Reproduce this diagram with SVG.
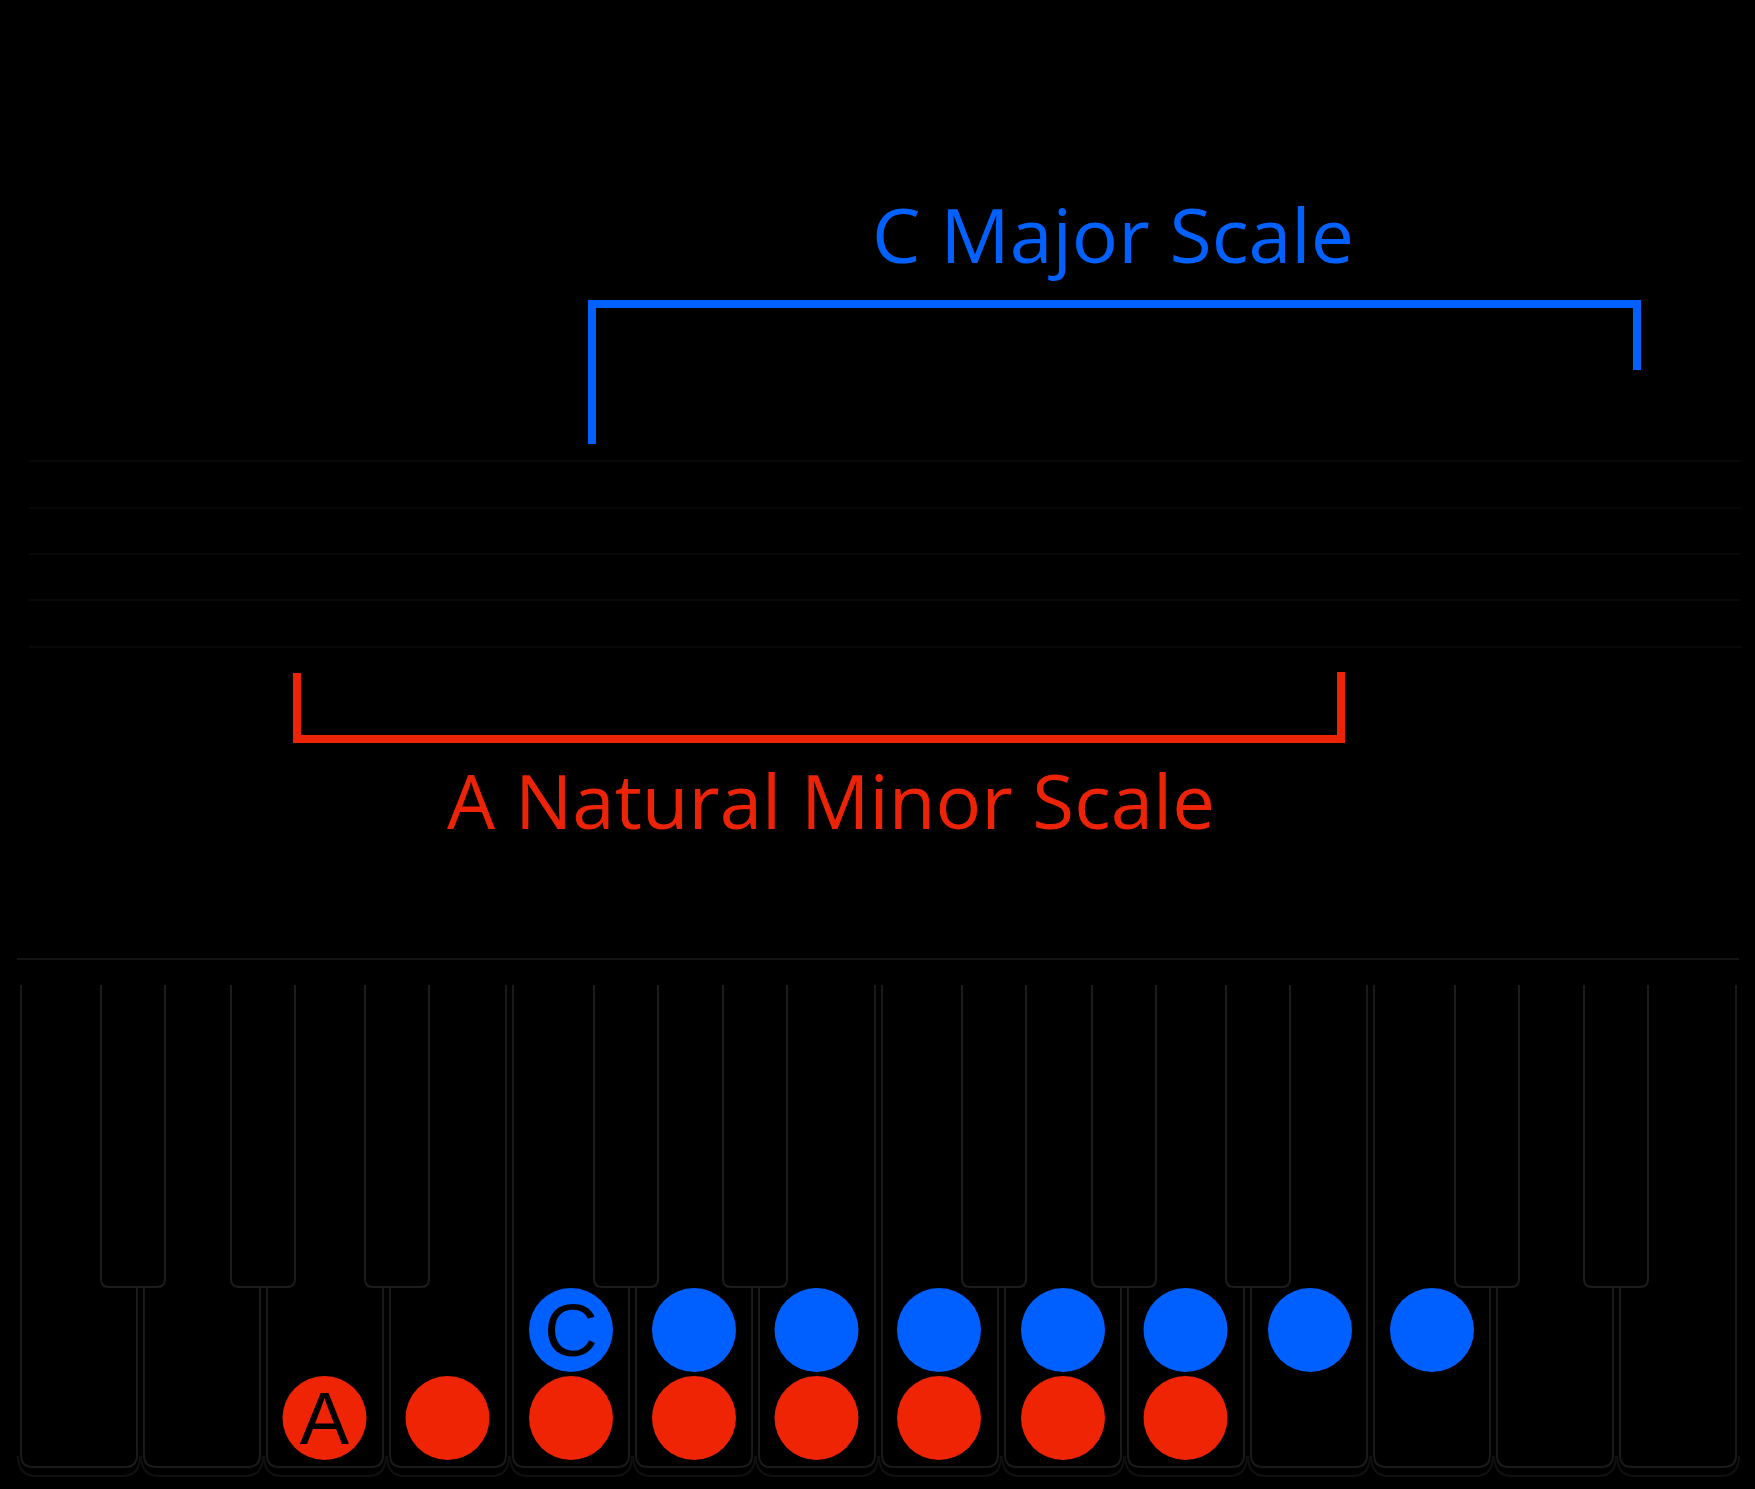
<svg xmlns="http://www.w3.org/2000/svg" width="1755" height="1489" viewBox="0 0 1755 1489">
<style>
.label{font-family:"Open Sans","Noto Sans","Liberation Sans",sans-serif;font-size:75px}
.note{font-family:"Liberation Sans",Arial,sans-serif;font-size:74px;fill:#000;text-anchor:middle}
.wk{fill:none;stroke:#1a1a1a;stroke-width:2}
.sh{fill:none;stroke:#101010;stroke-width:2}
.bk{fill:#000;stroke:#1c1c1c;stroke-width:2}
.staff{stroke:#080808;stroke-width:2}
.br{fill:none;stroke-width:8;stroke-linecap:butt;stroke-linejoin:miter}
.red{fill:#EE2405}
.blue{fill:#0060FF}
</style>
<rect width="1755" height="1489" fill="#000"/>
<g id="staff">
<line class="staff" x1="29" y1="461" x2="1741" y2="461"/>
<line class="staff" x1="29" y1="508" x2="1741" y2="508"/>
<line class="staff" x1="29" y1="554" x2="1741" y2="554"/>
<line class="staff" x1="29" y1="600" x2="1741" y2="600"/>
<line class="staff" x1="29" y1="647" x2="1741" y2="647"/>
</g>
<g id="c-major-label">
<text class="label" x="872" y="263" fill="#0061FE" textLength="482" lengthAdjust="spacingAndGlyphs">C Major Scale</text>
</g>
<g id="a-minor-label">
<text class="label" x="447" y="829" fill="#EC2306" textLength="768" lengthAdjust="spacingAndGlyphs">A Natural Minor Scale</text>
</g>
<g id="connectors">
<path class="br" stroke="#0061FE" d="M592,444 V304 H1637 V370"/>
<path class="br" stroke="#EC2306" d="M297,673 V739 H1341 V672"/>
</g>
<g id="keyboard">
<line x1="17" y1="959" x2="1739" y2="959" stroke="#141414" stroke-width="2"/>
<g id="white-keys">
<path class="wk" d="M21,985 V1455 Q21,1467 33,1467 H125 Q137,1467 137,1455 V985"/>
<path class="wk" d="M144,985 V1455 Q144,1467 156,1467 H248 Q260,1467 260,1455 V985"/>
<path class="wk" d="M267,985 V1455 Q267,1467 279,1467 H371 Q383,1467 383,1455 V985"/>
<path class="wk" d="M390,985 V1455 Q390,1467 402,1467 H494 Q506,1467 506,1455 V985"/>
<path class="wk" d="M513,985 V1455 Q513,1467 525,1467 H617 Q629,1467 629,1455 V985"/>
<path class="wk" d="M636,985 V1455 Q636,1467 648,1467 H740 Q752,1467 752,1455 V985"/>
<path class="wk" d="M759,985 V1455 Q759,1467 771,1467 H863 Q875,1467 875,1455 V985"/>
<path class="wk" d="M882,985 V1455 Q882,1467 894,1467 H986 Q998,1467 998,1455 V985"/>
<path class="wk" d="M1005,985 V1455 Q1005,1467 1017,1467 H1109 Q1121,1467 1121,1455 V985"/>
<path class="wk" d="M1128,985 V1455 Q1128,1467 1140,1467 H1232 Q1244,1467 1244,1455 V985"/>
<path class="wk" d="M1251,985 V1455 Q1251,1467 1263,1467 H1355 Q1367,1467 1367,1455 V985"/>
<path class="wk" d="M1374,985 V1455 Q1374,1467 1386,1467 H1478 Q1490,1467 1490,1455 V985"/>
<path class="wk" d="M1497,985 V1455 Q1497,1467 1509,1467 H1601 Q1613,1467 1613,1455 V985"/>
<path class="wk" d="M1620,985 V1455 Q1620,1467 1632,1467 H1724 Q1736,1467 1736,1455 V985"/>
</g>
<g id="key-shadows">
<path class="sh" d="M18,1456 Q18,1476 36,1476 H122 Q140,1476 140,1456"/>
<path class="sh" d="M141,1456 Q141,1476 159,1476 H245 Q263,1476 263,1456"/>
<path class="sh" d="M264,1456 Q264,1476 282,1476 H368 Q386,1476 386,1456"/>
<path class="sh" d="M387,1456 Q387,1476 405,1476 H491 Q509,1476 509,1456"/>
<path class="sh" d="M510,1456 Q510,1476 528,1476 H614 Q632,1476 632,1456"/>
<path class="sh" d="M633,1456 Q633,1476 651,1476 H737 Q755,1476 755,1456"/>
<path class="sh" d="M756,1456 Q756,1476 774,1476 H860 Q878,1476 878,1456"/>
<path class="sh" d="M879,1456 Q879,1476 897,1476 H983 Q1001,1476 1001,1456"/>
<path class="sh" d="M1002,1456 Q1002,1476 1020,1476 H1106 Q1124,1476 1124,1456"/>
<path class="sh" d="M1125,1456 Q1125,1476 1143,1476 H1229 Q1247,1476 1247,1456"/>
<path class="sh" d="M1248,1456 Q1248,1476 1266,1476 H1352 Q1370,1476 1370,1456"/>
<path class="sh" d="M1371,1456 Q1371,1476 1389,1476 H1475 Q1493,1476 1493,1456"/>
<path class="sh" d="M1494,1456 Q1494,1476 1512,1476 H1598 Q1616,1476 1616,1456"/>
<path class="sh" d="M1617,1456 Q1617,1476 1635,1476 H1721 Q1739,1476 1739,1456"/>
</g>
<g id="black-keys">
<path class="bk" d="M101,985 V1279 Q101,1287 109,1287 H157 Q165,1287 165,1279 V985"/>
<path class="bk" d="M231,985 V1279 Q231,1287 239,1287 H287 Q295,1287 295,1279 V985"/>
<path class="bk" d="M365,985 V1279 Q365,1287 373,1287 H421 Q429,1287 429,1279 V985"/>
<path class="bk" d="M594,985 V1279 Q594,1287 602,1287 H650 Q658,1287 658,1279 V985"/>
<path class="bk" d="M723,985 V1279 Q723,1287 731,1287 H779 Q787,1287 787,1279 V985"/>
<path class="bk" d="M962,985 V1279 Q962,1287 970,1287 H1018 Q1026,1287 1026,1279 V985"/>
<path class="bk" d="M1092,985 V1279 Q1092,1287 1100,1287 H1148 Q1156,1287 1156,1279 V985"/>
<path class="bk" d="M1226,985 V1279 Q1226,1287 1234,1287 H1282 Q1290,1287 1290,1279 V985"/>
<path class="bk" d="M1455,985 V1279 Q1455,1287 1463,1287 H1511 Q1519,1287 1519,1279 V985"/>
<path class="bk" d="M1584,985 V1279 Q1584,1287 1592,1287 H1640 Q1648,1287 1648,1279 V985"/>
</g>
</g>
<g id="minor-notes">
<g id="red-A"><circle class="red" cx="324.5" cy="1418" r="42"/><text class="note" x="324.5" y="1444">A</text></g>
<g id="red-B"><circle class="red" cx="447.5" cy="1418" r="42"/></g>
<g id="red-C"><circle class="red" cx="571" cy="1418" r="42"/></g>
<g id="red-D"><circle class="red" cx="694" cy="1418" r="42"/></g>
<g id="red-E"><circle class="red" cx="816.5" cy="1418" r="42"/></g>
<g id="red-F"><circle class="red" cx="939" cy="1418" r="42"/></g>
<g id="red-G"><circle class="red" cx="1063" cy="1418" r="42"/></g>
<g id="red-A2"><circle class="red" cx="1185.5" cy="1418" r="42"/></g>
</g>
<g id="major-notes">
<g id="blue-C"><circle class="blue" cx="571" cy="1330" r="42"/><text class="note" x="571" y="1356">C</text></g>
<g id="blue-D"><circle class="blue" cx="694" cy="1330" r="42"/></g>
<g id="blue-E"><circle class="blue" cx="816.5" cy="1330" r="42"/></g>
<g id="blue-F"><circle class="blue" cx="939" cy="1330" r="42"/></g>
<g id="blue-G"><circle class="blue" cx="1063" cy="1330" r="42"/></g>
<g id="blue-A"><circle class="blue" cx="1185.5" cy="1330" r="42"/></g>
<g id="blue-B"><circle class="blue" cx="1310" cy="1330" r="42"/></g>
<g id="blue-C2"><circle class="blue" cx="1432" cy="1330" r="42"/></g>
</g>
</svg>
